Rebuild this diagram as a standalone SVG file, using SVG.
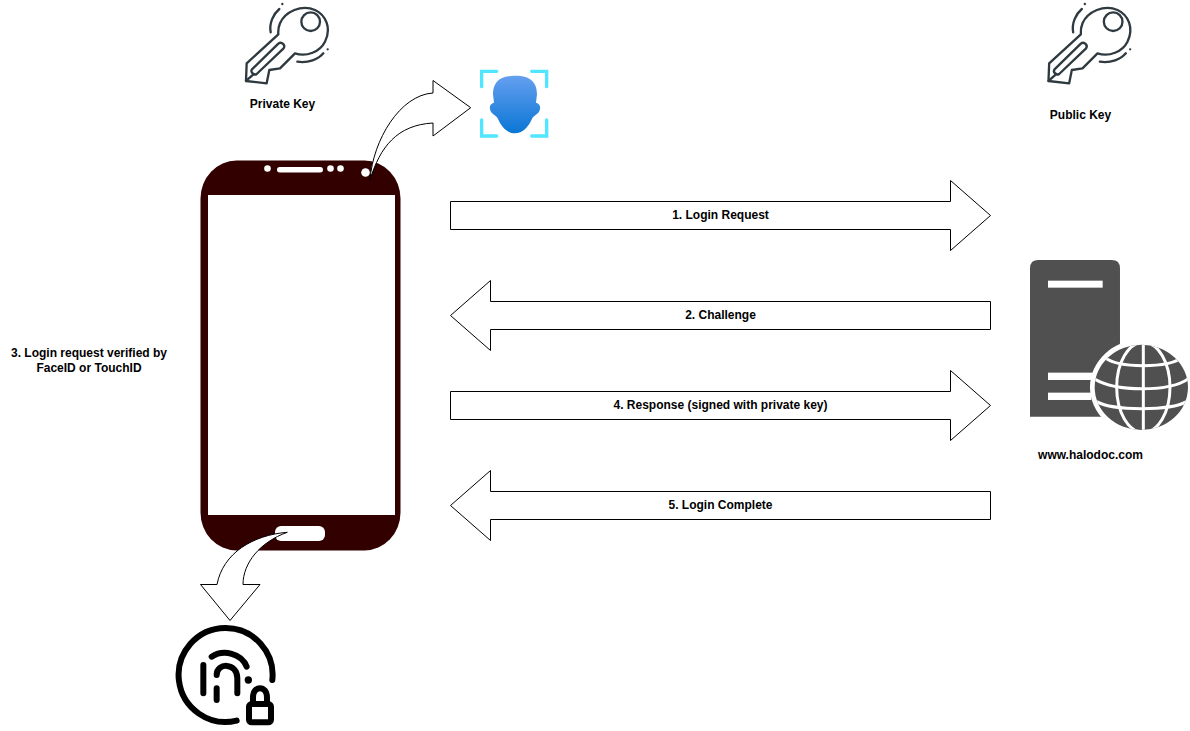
<svg xmlns="http://www.w3.org/2000/svg" xmlns:xlink="http://www.w3.org/1999/xlink" width="1190" height="731" viewBox="0 0 1190 731">
<style>
text{font-family:"Liberation Sans",Arial,sans-serif;font-size:12px;font-weight:bold;fill:#000;text-anchor:middle}
.blk{fill:#fff;stroke:#000;stroke-width:1}
.key{fill:none;stroke:#2e3a40;stroke-width:7;stroke-linecap:round;stroke-linejoin:round}
.fp{fill:none;stroke:#000;stroke-width:18;stroke-linecap:round}
.br{fill:none;stroke:#50e6ff;stroke-width:10;stroke-linecap:round}
.srv{fill:#505050}
.wl{fill:none;stroke:#fff;stroke-width:9}
</style>
<defs>
<linearGradient id="faceG" x1="0" y1="0" x2="0" y2="1"><stop offset="0" stop-color="#659ff0"/><stop offset="1" stop-color="#0a76d4"/></linearGradient>
<clipPath id="globeClip"><ellipse cx="169" cy="157" rx="140" ry="128"/></clipPath>
<g id="keyShape">
<path class="key" d="M115 103 L20 190 L18 243 L80 250 L88 210 L120 205 L165 160 C200 172 240 155 255 125 C275 85 258 45 225 30 C185 12 135 35 120 70 C115 82 114 92 115 103Z"/>
<circle class="key" cx="212" cy="65" r="28"/>
<path class="key" d="M36 208 L115 131 C125 123 138 136 130 146 L50 222 C42 228 30 216 36 208Z"/>
<path class="key" d="M18 243 L42 222"/>
<path class="key" d="M92 97 C87 70 100 42 118 27"/>
<circle cx="127" cy="12" r="3.500" fill="#2e3a40"/>
<path class="key" d="M172 185 C205 190 235 178 250 160"/>
<circle cx="263" cy="148" r="3.500" fill="#2e3a40"/>
</g>
</defs>
<rect width="1190" height="731" fill="#fff"/>

<g id="private-key">
<use xlink:href="#keyShape" href="#keyShape" transform="translate(240 0) scale(.3333)"/>
<text x="282.500" y="108">Private Key</text>
</g>
<g id="public-key">
<use xlink:href="#keyShape" href="#keyShape" transform="translate(1042.500 0) scale(.3333)"/>
<text x="1080.500" y="119">Public Key</text>
</g>

<g id="phone">
<rect x="200.500" y="160.500" width="200" height="390" rx="36" ry="38" fill="#330000"/>
<rect x="208" y="195" width="187" height="320" fill="#fff"/>
<circle cx="267.500" cy="168.500" r="3.300" fill="#fff"/>
<rect x="277" y="167" width="46" height="5.500" rx="2.700" fill="#fff"/>
<circle cx="330.500" cy="168.500" r="3.300" fill="#fff"/>
<circle cx="340.500" cy="168.500" r="3.300" fill="#fff"/>
<circle cx="365.500" cy="172.500" r="4.300" fill="#fff"/>
<rect x="275" y="526" width="50" height="15" rx="6" fill="#fff"/>
</g>

<g id="face-id" transform="translate(475 65) scale(.3333)">
<path class="br" d="M20 65V19H65M170 19H215V65M215 165V213H170M65 213H20V165"/>
<path fill="url(#faceG)" d="M120 32 C170 32 186 55 186 88 L183 113 C197 116 198 130 192 140 C187 149 177 150 172 160 C160 188 142 205 120 205 C98 205 80 188 68 160 C63 150 53 149 48 140 C42 130 43 116 57 113 L54 88 C54 55 70 32 120 32Z"/>
</g>

<g id="touch-id" transform="translate(175 625) scale(.3333)">
<path class="fp" d="M292 165 A141 141 0 1 0 185 287"/>
<path class="fp" d="M110 95 C145 72 200 85 215 125"/>
<path class="fp" d="M85 120 V205"/>
<path class="fp" d="M125 150 C125 112 187 112 187 160 V205"/>
<path class="fp" d="M125 190 V225"/>
<circle cx="220" cy="165" r="11" fill="#000"/>
<rect x="222" y="237" width="66" height="55" rx="8" fill="none" stroke="#000" stroke-width="18"/>
<path d="M234 237 V218 C234 180 276 180 276 218 V237" fill="none" stroke="#000" stroke-width="18"/>
</g>

<g id="server">
<g transform="translate(1020 250) scale(.3333)">
<path class="srv" d="M30 500 V55 Q30 30 55 30 H275 Q300 30 300 55 V500Z"/>
<rect x="84" y="92" width="164" height="21" fill="#fff"/>
<rect x="84" y="368" width="140" height="22" fill="#fff"/>
<rect x="84" y="428" width="130" height="22" fill="#fff"/>
</g>
<g transform="translate(1085 335) scale(.3333)">
<ellipse cx="169" cy="157" rx="154" ry="143" fill="#fff"/>
<ellipse class="srv" cx="169" cy="157" rx="140" ry="128"/>
<g clip-path="url(#globeClip)">
<path class="wl" d="M175 20 V295"/>
<ellipse class="wl" cx="175" cy="157" rx="80" ry="135"/>
<path class="wl" d="M60 68 C100 100 250 100 290 68"/>
<path class="wl" d="M25 130 C90 172 255 172 312 130"/>
<path class="wl" d="M35 200 C85 228 255 228 305 200"/>
</g>
</g>
<text id="server-label" x="1090.500" y="459">www.halodoc.com</text>
</g>

<g id="connectors">
<path class="blk" d="M450.500 201.500H950.500V180.500L990.500 215.500L950.500 250.500V229.500H450.500Z"/>
<path class="blk" d="M990.500 301.500H490.500V280.500L450.500 315.500L490.500 350.500V329.500H990.500Z"/>
<path class="blk" d="M450.500 391.500H950.500V370.500L990.500 405.500L950.500 440.500V419.500H450.500Z"/>
<path class="blk" d="M990.500 491.500H490.500V470.500L450.500 505.500L490.500 540.500V519.500H990.500Z"/>
<path class="blk" d="M370 180 C373 140 400 95 433 93 V80.500 L470.700 107.700 L433 136 V123 C397 125 380 147 370 180Z"/>
<path class="blk" d="M287.300 532.300 C253 535 223 553 217 584.500 H200.500 L230 620.500 L260 584.500 H243 C243 563 260 542 287.300 532.300Z"/>
</g>

<g id="labels">
<text x="720.500" y="219">1. Login Request</text>
<text x="720.500" y="319">2. Challenge</text>
<text x="720.500" y="409">4. Response (signed with private key)</text>
<text x="720.500" y="509">5. Login Complete</text>
<text x="89" y="357">3. Login request verified by</text>
<text x="89" y="372">FaceID or TouchID</text>
</g>
</svg>
